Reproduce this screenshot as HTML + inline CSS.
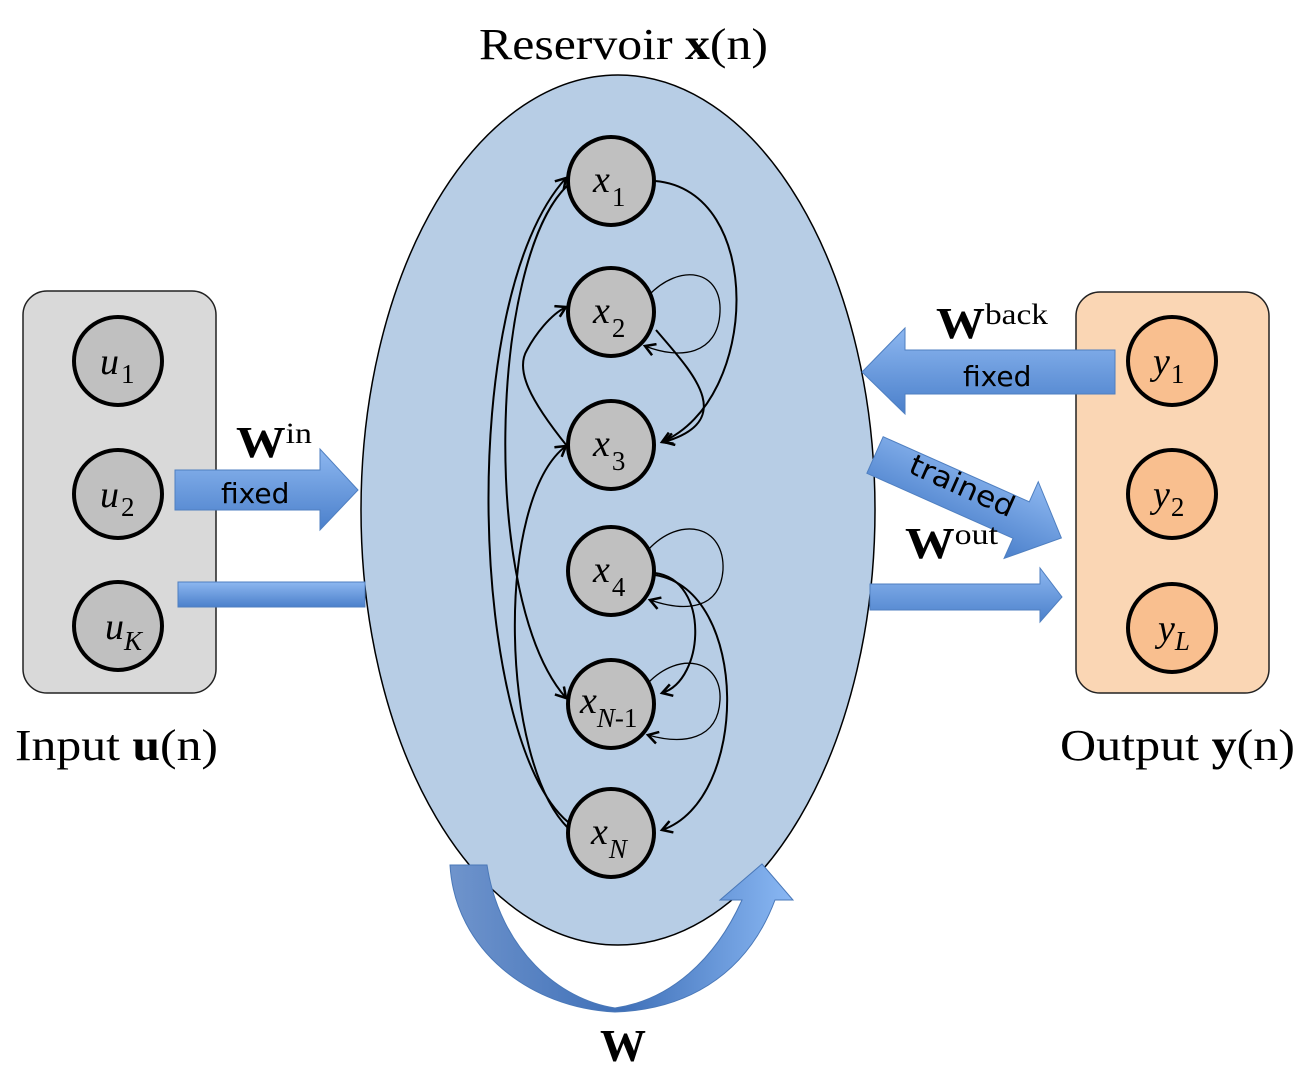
<!DOCTYPE html>
<html><head><meta charset="utf-8"><style>
html,body{margin:0;padding:0;background:#fff;}
svg{display:block;}
text{font-family:"Liberation Serif",serif;}
.s{font-family:"DejaVu Sans","Liberation Sans",sans-serif;}
</style></head><body>
<svg width="1313" height="1081" viewBox="0 0 1313 1081" xmlns="http://www.w3.org/2000/svg">
<defs>
<linearGradient id="bl" x1="0" y1="0" x2="0" y2="1">
<stop offset="0" stop-color="#8db7f0"/><stop offset="1" stop-color="#4b80cb"/></linearGradient>
<linearGradient id="wl" x1="0" y1="0" x2="1" y2="0">
<stop offset="0" stop-color="#6f94cc"/><stop offset="0.5" stop-color="#3f70b8"/><stop offset="1" stop-color="#8ab8f4"/></linearGradient>
<marker id="ah" markerWidth="14" markerHeight="14" refX="11" refY="7" orient="auto" markerUnits="userSpaceOnUse">
<path d="M1,1 L11,7 L1,13" fill="none" stroke="#000" stroke-width="2.5"/></marker>
</defs>

<ellipse cx="618" cy="510" rx="257" ry="435" fill="#b7cde5" stroke="#000" stroke-width="1.5"/>

<path d="M450,865 L487,865 C500,950 560,1000 615,1008 C670,1000 715,960 742,900 L720,900 L762,864 L793,900 L775,900 C745,980 680,1010 615,1012 C530,1008 455,950 450,865 Z" fill="url(#wl)" stroke="#4a78b8" stroke-width="1"/>

<rect x="23" y="291" width="193" height="402" rx="24" fill="#d9d9d9" stroke="#222" stroke-width="1.5"/>
<g fill="#c0c0c0" stroke="#000" stroke-width="4">
<circle cx="118" cy="361" r="44"/><circle cx="118" cy="494" r="44"/><circle cx="118" cy="626" r="44"/>
</g>
<g font-style="italic" font-size="38">
<text x="100" y="374">u<tspan font-size="27" font-style="normal" dx="2" dy="9">1</tspan></text>
<text x="100" y="507">u<tspan font-size="27" font-style="normal" dx="2" dy="9">2</tspan></text>
<text x="105" y="639">u<tspan font-size="27" dx="0" dy="11">K</tspan></text>
</g>

<rect x="1076" y="292" width="193" height="401" rx="24" fill="#fad6b4" stroke="#222" stroke-width="1.5"/>
<g fill="#f9bf8f" stroke="#000" stroke-width="4">
<circle cx="1172" cy="361" r="44"/><circle cx="1172" cy="494" r="44"/><circle cx="1172" cy="628" r="44"/>
</g>
<g font-style="italic" font-size="38">
<text x="1153" y="374">y<tspan font-size="27" font-style="normal" dx="1" dy="9">1</tspan></text>
<text x="1153" y="507">y<tspan font-size="27" font-style="normal" dx="1" dy="9">2</tspan></text>
<text x="1158" y="641">y<tspan font-size="27" dy="9">L</tspan></text>
</g>

<g fill="url(#bl)" stroke="#4f7fc0" stroke-width="1">
<path d="M175,470 L320,470 L320,449 L358,490 L320,530 L320,510 L175,510 Z"/>
<rect x="178" y="582" width="187" height="25"/>
<path d="M1115,350 L905,350 L905,328 L862,372 L905,414 L905,394 L1115,394 Z"/>
<path d="M870,584 L1040,584 L1040,568 L1062,597 L1040,622 L1040,610 L870,610 Z"/>
<path transform="translate(875,455) rotate(24)" d="M0,-20 L160,-20 L160,-42 L204,0 L160,42 L160,20 L0,20 Z"/>
</g>
<text class="s" x="221" y="503" font-size="28" fill="#000">fixed</text>
<text class="s" x="963" y="386" font-size="28" fill="#000">fixed</text>
<text class="s" x="907" y="472" font-size="29" fill="#000" transform="rotate(24 907 472)" textLength="112" lengthAdjust="spacingAndGlyphs">trained</text>

<text x="236" y="457" font-size="44" font-weight="bold" textLength="76" lengthAdjust="spacingAndGlyphs">W<tspan font-size="30" font-weight="normal" dy="-14">in</tspan></text>
<text x="936" y="338" font-size="44" font-weight="bold" textLength="112" lengthAdjust="spacingAndGlyphs">W<tspan font-size="30" font-weight="normal" dy="-14">back</tspan></text>
<text x="905" y="558" font-size="44" font-weight="bold" textLength="93" lengthAdjust="spacingAndGlyphs">W<tspan font-size="30" font-weight="normal" dy="-14">out</tspan></text>
<text x="600" y="1061" font-size="46" font-weight="bold">W</text>

<text x="479" y="59" font-size="44" textLength="289" lengthAdjust="spacingAndGlyphs">Reservoir <tspan font-weight="bold">x</tspan>(n)</text>
<text x="15" y="760" font-size="44" textLength="203" lengthAdjust="spacingAndGlyphs">Input <tspan font-weight="bold">u</tspan>(n)</text>
<text x="1060" y="760" font-size="44" textLength="235" lengthAdjust="spacingAndGlyphs">Output <tspan font-weight="bold">y</tspan>(n)</text>

<g fill="none" stroke="#000" stroke-width="2">
<path d="M655,181 C765,190 760,400 662,442" marker-end="url(#ah)"/>
<path d="M648,296 C680,262 722,270 720,312 C718,355 680,360 645,346" stroke-width="1.3" marker-end="url(#ah)"/>
<path d="M656,330 C690,370 740,420 664,442" marker-end="url(#ah)"/>
<path d="M567,446 C530,400 515,370 527,350 C535,335 550,315 566,307" marker-end="url(#ah)"/>
<path d="M568,822 C470,740 455,300 566,178" marker-end="url(#ah)"/>
<path d="M567,186 C490,260 480,600 566,698" marker-end="url(#ah)"/>
<path d="M568,828 C500,760 495,500 566,446" marker-end="url(#ah)"/>
<path d="M648,550 C680,515 725,525 723,570 C720,610 685,612 650,600" stroke-width="1.3" marker-end="url(#ah)"/>
<path d="M655,573 C710,580 705,680 662,693" marker-end="url(#ah)"/>
<path d="M655,575 C750,590 750,800 662,830" marker-end="url(#ah)"/>
<path d="M648,683 C680,650 722,660 720,700 C718,740 683,745 648,735" stroke-width="1.3" marker-end="url(#ah)"/>
</g>

<g fill="#c0c0c0" stroke="#000" stroke-width="4">
<ellipse cx="611" cy="181" rx="43" ry="44"/>
<ellipse cx="611" cy="312" rx="43" ry="44"/>
<ellipse cx="611" cy="445" rx="43" ry="44"/>
<ellipse cx="611" cy="571" rx="43" ry="44"/>
<ellipse cx="611" cy="704" rx="43" ry="44"/>
<ellipse cx="611" cy="833" rx="43" ry="44"/>
</g>
<g font-style="italic" font-size="38">
<text x="593" y="192">x<tspan font-size="27" font-style="normal" dx="2" dy="14">1</tspan></text>
<text x="593" y="323">x<tspan font-size="27" font-style="normal" dx="2" dy="14">2</tspan></text>
<text x="593" y="456">x<tspan font-size="27" font-style="normal" dx="2" dy="14">3</tspan></text>
<text x="593" y="582">x<tspan font-size="27" font-style="normal" dx="2" dy="14">4</tspan></text>
<text x="580" y="713">x<tspan font-size="27" dx="0" dy="14">N</tspan><tspan font-size="27" font-style="normal">-1</tspan></text>
<text x="591" y="844">x<tspan font-size="27" dx="1" dy="14">N</tspan></text>
</g>
</svg>
</body></html>
